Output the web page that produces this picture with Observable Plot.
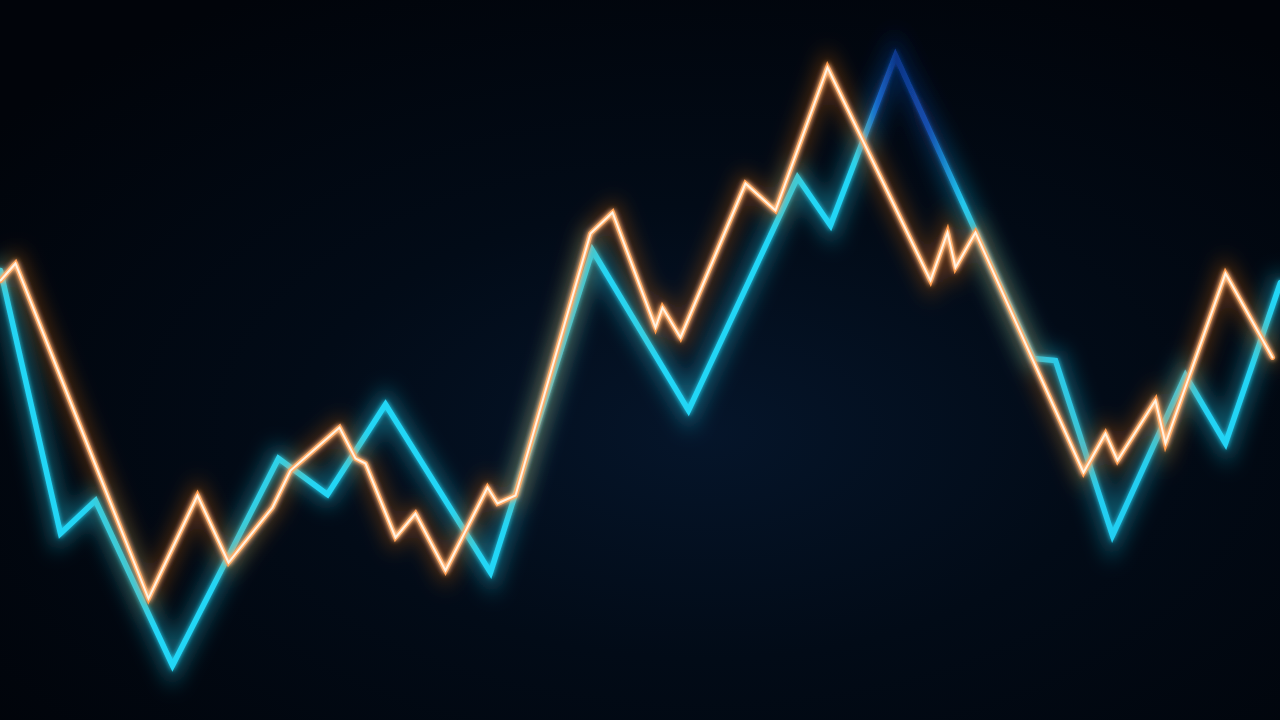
<!DOCTYPE html>
<html>
<head>
<meta charset="utf-8">
<script src="https://cdn.jsdelivr.net/npm/d3@7"></script>
<script src="https://cdn.jsdelivr.net/npm/@observablehq/plot@0.6"></script>
<style>
  html, body { margin: 0; padding: 0; width: 1280px; height: 720px; overflow: hidden; }
  body { background: radial-gradient(ellipse 70% 70% at 55% 60%, #05152a 0%, #020b17 45%, #01040a 100%); }
  #chart svg { display: block; }
</style>
</head>
<body>
<div id="chart"></div>
<script>
// Blue series
const blueT = [0, 60, 95, 172, 278, 327, 385, 490, 592, 688, 797, 830, 895, 1033, 1055, 1112, 1185, 1225, 1280];
const blueV = [450, 187, 220, 55, 262, 226, 316, 148, 470, 310, 543, 495, 665, 362, 360, 185, 345, 277, 438];
// Orange series
const orangeT = [0, 15, 148, 197, 228, 272, 290, 339, 355, 365, 395, 415, 445, 487, 497, 515, 590, 612, 655, 662, 680, 745, 775, 827, 930, 947, 955, 975, 1083, 1105, 1117, 1155, 1165, 1225, 1272];
const orangeV = [440, 457, 122, 225, 158, 213, 250, 293, 262, 257, 183, 207, 150, 233, 217, 225, 487, 508, 393, 413, 383, 537, 510, 653, 440, 488, 453, 488, 248, 287, 260, 320, 277, 447, 363];

const blue = blueT.map((t, i) => ({t, v: blueV[i]}));
const orange = orangeT.map((t, i) => ({t, v: orangeV[i]}));

const common = {x: "t", y: "v", curve: "linear", strokeLinejoin: "miter", strokeMiterlimit: 10, strokeLinecap: "round"};

const plot = Plot.plot({
  width: 1280,
  height: 720,
  margin: 0,
  x: {domain: [0, 1280], axis: null},
  y: {domain: [0, 720], axis: null},
  style: {background: "transparent", overflow: "visible"},
  marks: [
    Plot.line(blue, {...common, stroke: "url(#blueGrad)", strokeWidth: 20, strokeOpacity: 0.38}),
    Plot.line(blue, {...common, stroke: "url(#blueGrad)", strokeWidth: 5.5}),
    Plot.line(orange, {...common, stroke: "#ff7a1e", strokeWidth: 16, strokeOpacity: 0.34}),
    Plot.line(orange, {...common, stroke: "#ff9642", strokeWidth: 5}),
    Plot.line(orange, {...common, stroke: "#fff3e2", strokeWidth: 2})
  ]
});

const ns = "http://www.w3.org/2000/svg";
const defs = document.createElementNS(ns, "defs");
defs.innerHTML = `
  <linearGradient id="blueGrad" gradientUnits="userSpaceOnUse" x1="0" y1="0" x2="1280" y2="0">
    <stop offset="0" stop-color="#22d6f6"/>
    <stop offset="0.668" stop-color="#22d6f6"/>
    <stop offset="0.685" stop-color="#1667c8"/>
    <stop offset="0.70" stop-color="#0f3486"/>
    <stop offset="0.725" stop-color="#144fae"/>
    <stop offset="0.752" stop-color="#20c8ee"/>
    <stop offset="1" stop-color="#22d6f6"/>
  </linearGradient>
  <filter id="bigBlur" filterUnits="userSpaceOnUse" x="-50" y="-50" width="1380" height="820">
    <feGaussianBlur stdDeviation="10"/>
  </filter>
  <filter id="glow" filterUnits="userSpaceOnUse" x="-50" y="-50" width="1380" height="820">
    <feGaussianBlur in="SourceGraphic" stdDeviation="2.5" result="b"/>
    <feMerge><feMergeNode in="b"/><feMergeNode in="SourceGraphic"/></feMerge>
  </filter>`;
plot.insertBefore(defs, plot.firstChild);

const groups = plot.querySelectorAll('g[aria-label="line"]');
const filters = ["url(#bigBlur)", "url(#glow)", "url(#bigBlur)", "url(#glow)", "url(#glow)"];
groups.forEach((g, i) => { if (filters[i]) g.setAttribute("filter", filters[i]); });

document.getElementById("chart").appendChild(plot);
</script>
</body>
</html>
